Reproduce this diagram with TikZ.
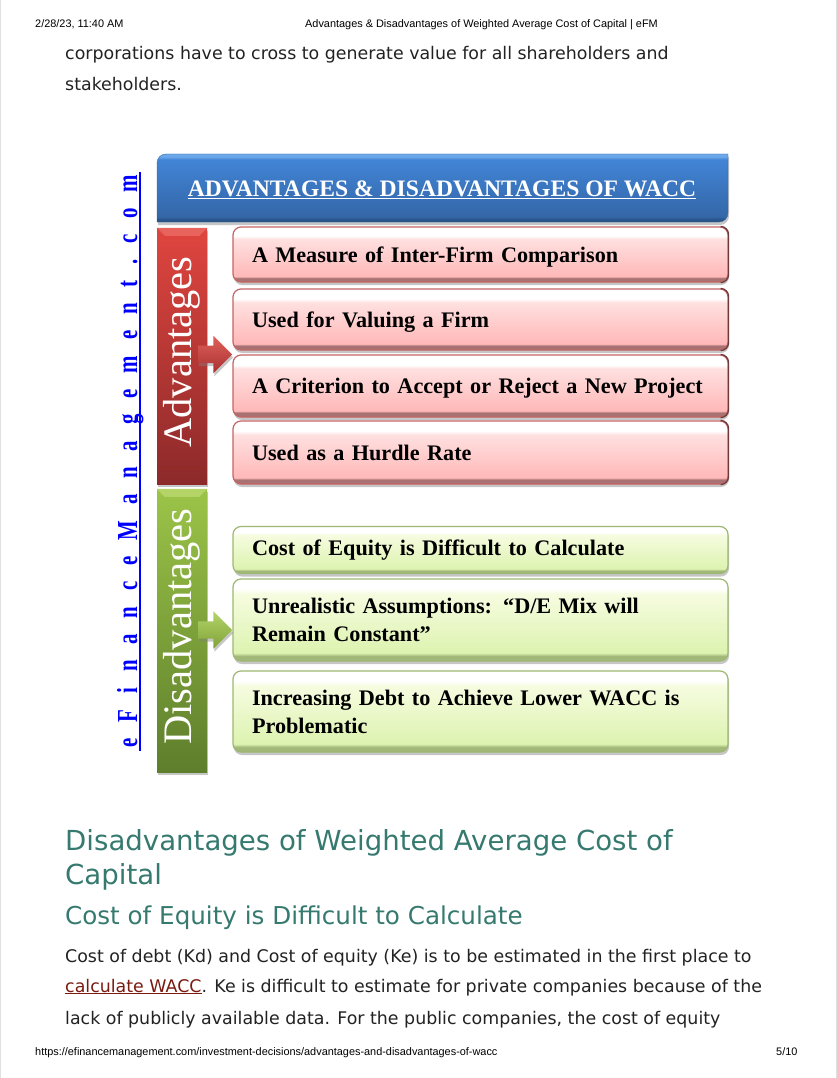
\documentclass[tikz,border=0pt]{standalone}
\usepackage{fontspec}
\usepackage{tikz}
\usetikzlibrary{arrows,shapes,shadows}
\setmainfont{Liberation Serif}
\newfontfamily\pagefont{DejaVu Sans}
\newfontfamily\printfont{Liberation Sans}
\newfontfamily\sitefont[LetterSpace=76]{Liberation Serif}
\definecolor{headteal}{HTML}{35796F}
\definecolor{linkred}{HTML}{7A1A10}
\definecolor{bodygray}{HTML}{222222}
\definecolor{redline}{HTML}{C46464}
\definecolor{rededge}{HTML}{6E3A3A}
\definecolor{greenline}{HTML}{9DB870}
\definecolor{redband}{HTML}{A87272}
\definecolor{redlow}{HTML}{FFB8B8}
\definecolor{redhigh}{HTML}{FFE0E0}
\definecolor{greenband}{HTML}{A2B87A}
\definecolor{greenlow}{HTML}{DDF3B0}
\definecolor{greenhigh}{HTML}{F6FCE0}
\definecolor{bluetop}{HTML}{6AA8EA}
\definecolor{bluehigh}{HTML}{4184D6}
\definecolor{bluelow}{HTML}{3467A8}
\definecolor{blueband}{HTML}{2A5488}
\definecolor{redsidetop}{HTML}{E0453F}
\definecolor{redsidelow}{HTML}{8C2A2A}
\definecolor{redsidecap}{HTML}{E8635C}
\definecolor{greensidetop}{HTML}{9CC448}
\definecolor{greensidelow}{HTML}{5E7E2C}
\definecolor{greensidecap}{HTML}{B4D468}
\definecolor{redarrowtop}{HTML}{E0605A}
\definecolor{redarrowlow}{HTML}{A83232}
\definecolor{greenarrowtop}{HTML}{B4D468}
\definecolor{greenarrowlow}{HTML}{7FA238}
\pgfdeclareverticalshading{redbevel}{100bp}{color(0bp)=(redband);color(28.5bp)=(redband);color(30bp)=(redlow);color(64bp)=(redhigh);color(67bp)=(white);color(100bp)=(white)}
\pgfdeclareverticalshading{greenbevel}{100bp}{color(0bp)=(greenband);color(28bp)=(greenband);color(30bp)=(greenlow);color(66bp)=(greenhigh);color(69bp)=(white);color(100bp)=(white)}
\pgfdeclareverticalshading{bluebevel}{100bp}{color(0bp)=(blueband);color(27bp)=(blueband);color(29bp)=(bluelow);color(71bp)=(bluehigh);color(73bp)=(bluetop);color(100bp)=(bluetop)}
\pgfdeclareverticalshading{redside}{100bp}{color(0bp)=(redsidelow);color(25bp)=(redsidelow);color(75bp)=(redsidetop);color(100bp)=(redsidetop)}
\pgfdeclareverticalshading{greenside}{100bp}{color(0bp)=(greensidelow);color(25bp)=(greensidelow);color(75bp)=(greensidetop);color(100bp)=(greensidetop)}
\pgfdeclareverticalshading{redpoint}{100bp}{color(0bp)=(redarrowlow);color(25bp)=(redarrowlow);color(75bp)=(redarrowtop);color(100bp)=(redarrowtop)}
\pgfdeclareverticalshading{greenpoint}{100bp}{color(0bp)=(greenarrowlow);color(25bp)=(greenarrowlow);color(75bp)=(greenarrowtop);color(100bp)=(greenarrowtop)}
\tikzset{
	softshadow/.style={drop shadow={shadow xshift=1pt,shadow yshift=-3pt,opacity=.45}},
	greenbox/.style={rectangle,rounded corners=8pt,draw=greenline,line width=1.2pt,shading=greenbevel,softshadow,minimum width=495pt,text width=457pt,inner xsep=19pt,align=left,font=\fontsize{22.2}{28}\selectfont\bfseries},
	redbox/.style={greenbox,draw=redline,shading=redbevel,text height=18pt,text depth=3pt},
	sidebar/.style={rectangle,minimum width=50pt,inner sep=0pt,softshadow},
	sidelabel/.style={rotate=90,text=white,xshift=4pt,font=\fontsize{40.5}{40.5}\selectfont},
	rightrim/.style={draw=rededge,line width=1.2pt,rounded corners=8pt},
	blockarrow/.style={single arrow,minimum height=34pt,minimum width=37pt,single arrow head extend=10pt,inner sep=0pt,inner ysep=8.5pt,anchor=tip,softshadow},
	pagetext/.style={anchor=base west,inner sep=0pt,font=\pagefont\fontsize{17.4}{17.4}\selectfont,text=bodygray},
	printtext/.style={anchor=base west,inner sep=0pt,font=\printfont\fontsize{10.9}{10.9}\selectfont},
}
\begin{document}
\begin{tikzpicture}[x=1pt,y=-1pt,node distance=66pt]
		\useasboundingbox (0,0) rectangle (836,1078);
		\draw[black!12,line width=1pt] (0,0) rectangle (836,1078);
		\node[printtext] (stamp) at (35,28) {2/28/23, 11:40 AM};
		\node[printtext] (title) at (305,28) {Advantages \& Disadvantages of Weighted Average Cost of Capital | eFM};
		\node[pagetext] (p1) at (65,60) {corporations have to cross to generate value for all shareholders and};
		\node[pagetext] (p2) at (65,91) {stakeholders.};
		\node[rotate=90,anchor=base,inner xsep=0pt,text=blue] (site) at (137,461) {\scalebox{.72}[1]{\fontsize{29}{29}\sitefont\bfseries eFinanceManagement.com}};
		\draw[blue,line width=1.2pt] (140,172) -- (140,751);
		\path[draw=bluelow,shading=bluebevel,softshadow] (157,222) [rounded corners=9pt] -- (157,154) [sharp corners] -- (728,154) [rounded corners=9pt] -- (728,222) [sharp corners] -- cycle;
		\node[text=white,font=\fontsize{23.6}{23.6}\selectfont\bfseries] (head) at (442,190) {\underline{ADVANTAGES \& DISADVANTAGES OF WACC}};
		\node[sidebar,minimum height=256pt,shading=redside] (adv) at (182,356) {};
		\node[sidebar,minimum height=283pt,shading=greenside] (dis) at (182,630.5) {};
		\fill[redsidecap] (adv.north west) -- (adv.north east) -- ([xshift=-8pt,yshift=-8pt]adv.north east) -- ([xshift=8pt,yshift=-8pt]adv.north west) -- cycle;
		\fill[greensidecap] (dis.north west) -- (dis.north east) -- ([xshift=-8pt,yshift=-8pt]dis.north east) -- ([xshift=8pt,yshift=-8pt]dis.north west) -- cycle;
		\node[sidelabel] (advlabel) at (adv) {Advantages};
		\node[sidelabel] (dislabel) at (dis) {Disadvantages};
		\node[redbox,minimum height=55pt] (R1) at (480.5,254.5) {A Measure of Inter-Firm Comparison};
		\node[redbox,minimum height=61pt,node distance=65pt] (R2) [below of=R1] {Used for Valuing a Firm};
		\node[redbox,minimum height=62pt,node distance=66.5pt] (R3) [below of=R2] {A Criterion to Accept or Reject a New Project};
		\node[redbox,minimum height=63pt,node distance=66.5pt] (R4) [below of=R3] {Used as a Hurdle Rate};
		\draw[rightrim] ([xshift=-8pt]R1.north east) -- (R1.north east) -- (R1.south east) -- ([xshift=-8pt]R1.south east);
		\draw[rightrim] ([xshift=-8pt]R2.north east) -- (R2.north east) -- (R2.south east) -- ([xshift=-8pt]R2.south east);
		\draw[rightrim] ([xshift=-8pt]R3.north east) -- (R3.north east) -- (R3.south east) -- ([xshift=-8pt]R3.south east);
		\draw[rightrim] ([xshift=-8pt]R4.north east) -- (R4.north east) -- (R4.south east) -- ([xshift=-8pt]R4.south east);
		\node[greenbox,minimum height=47pt] (G1) at (480.5,550) {Cost of Equity is Difficult to Calculate};
		\node[greenbox,minimum height=82pt,node distance=70pt] (G2) [below of=G1] {Unrealistic Assumptions: “D/E Mix will\\Remain Constant”};
		\node[greenbox,minimum height=81pt,node distance=91.5pt] (G3) [below of=G2] {Increasing Debt to Achieve Lower WACC is\\Problematic};
		\node[blockarrow,shading=redpoint] (advarrow) at (R3.north west) {};
		\node[blockarrow,shading=greenpoint,yshift=-10pt] (disarrow) at (G2.west) {};
		\node[pagetext,text=headteal,font=\pagefont\fontsize{27.6}{27.6}\selectfont] (h1a) at (65,850) {Disadvantages of Weighted Average Cost of};
		\node[pagetext,text=headteal,font=\pagefont\fontsize{27.6}{27.6}\selectfont] (h1b) at (65,884) {Capital};
		\node[pagetext,text=headteal,font=\pagefont\fontsize{24.6}{24.6}\selectfont] (h2) at (65,924) {Cost of Equity is Difficult to Calculate};
		\node[pagetext] (b1) at (65,962) {Cost of debt (Kd) and Cost of equity (Ke) is to be estimated in the first place to};
		\node[pagetext] (b2) at (65,992) {\textcolor{linkred}{\underline{calculate WACC}}. Ke is difficult to estimate for private companies because of the};
		\node[pagetext] (b3) at (65,1024) {lack of publicly available data. For the public companies, the cost of equity};
		\node[printtext] (url) at (35,1055) {https://efinancemanagement.com/investment-decisions/advantages-and-disadvantages-of-wacc};
		\node[printtext] (pageno) at (776,1055) {5/10};
	\end{tikzpicture}
\end{document}
